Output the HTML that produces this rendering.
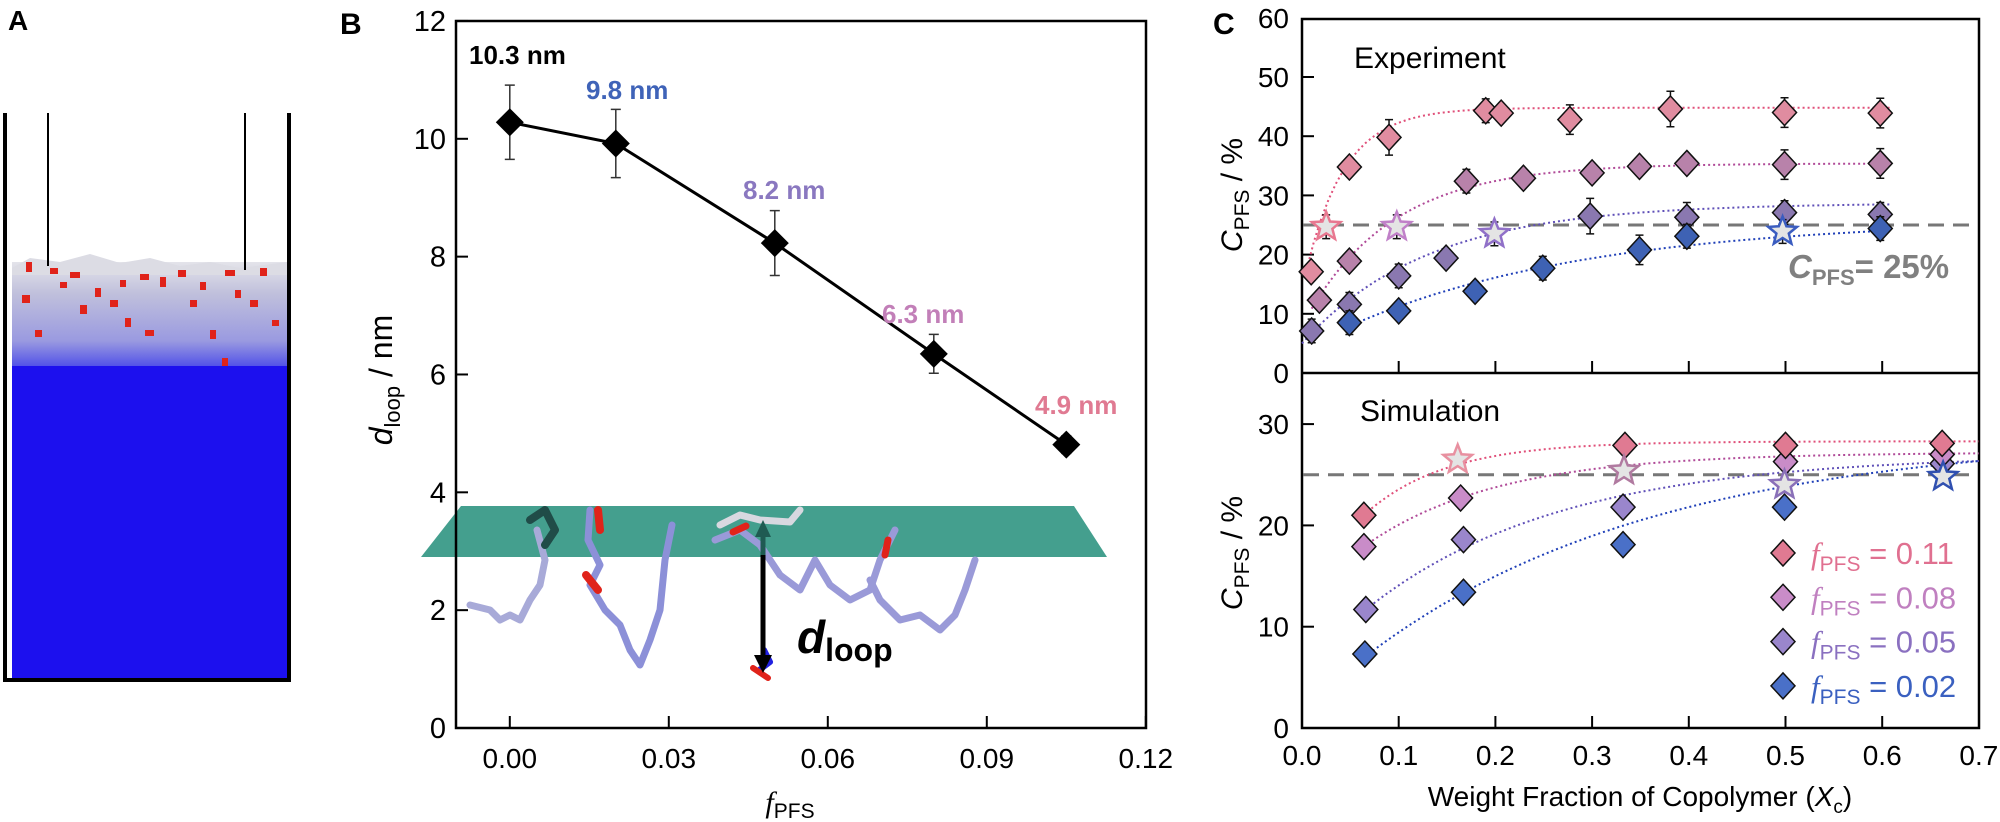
<!DOCTYPE html>
<html><head><meta charset="utf-8">
<style>
html,body{margin:0;padding:0;background:#fff;}
svg{display:block;font-family:"Liberation Sans",Arial,sans-serif;}
</style></head>
<body>
<svg id="fig" width="2000" height="822" viewBox="0 0 2000 822" xmlns="http://www.w3.org/2000/svg">
  <defs>
    <linearGradient id="layerGrad" x1="0" y1="0" x2="0" y2="1">
      <stop offset="0" stop-color="#e4e4ea"/>
      <stop offset="0.3" stop-color="#c0c0dc"/>
      <stop offset="0.75" stop-color="#9a9ae0"/>
      <stop offset="1" stop-color="#5050e8"/>
    </linearGradient>
  </defs>

  <!-- Panel A -->
  <g>
    <text x="8" y="30" font-size="28" font-weight="bold">A</text>
    <rect x="12" y="262" width="275" height="105" fill="url(#layerGrad)"/>
    <path d="M12,268 L30,258 L60,262 L90,254 L120,263 L150,258 L180,266 L210,262 L240,268 L287,262 L287,275 L12,275Z" fill="#dcdce4"/>
    <rect x="12" y="366" width="275" height="312" fill="#1c10ee"/>
    <g fill="#e0231a">
      <rect x="26" y="262" width="6" height="10"/><rect x="50" y="268" width="8" height="6"/>
      <rect x="70" y="272" width="10" height="6"/><rect x="95" y="288" width="6" height="9"/>
      <rect x="140" y="274" width="9" height="6"/><rect x="160" y="277" width="6" height="10"/>
      <rect x="178" y="270" width="8" height="7"/><rect x="200" y="282" width="6" height="8"/>
      <rect x="225" y="270" width="10" height="6"/><rect x="260" y="268" width="7" height="8"/>
      <rect x="22" y="295" width="8" height="8"/><rect x="80" y="305" width="7" height="9"/>
      <rect x="110" y="300" width="8" height="7"/><rect x="125" y="318" width="6" height="9"/>
      <rect x="145" y="330" width="9" height="6"/><rect x="210" y="330" width="6" height="9"/>
      <rect x="35" y="330" width="7" height="7"/><rect x="222" y="358" width="6" height="8"/>
      <rect x="250" y="300" width="8" height="7"/><rect x="272" y="320" width="7" height="6"/>
      <rect x="60" y="282" width="7" height="6"/><rect x="120" y="280" width="6" height="7"/>
      <rect x="190" y="300" width="7" height="7"/><rect x="235" y="290" width="6" height="8"/>
    </g>
    <g stroke="#000">
      <line x1="5" y1="113" x2="5" y2="681" stroke-width="4"/>
      <line x1="289" y1="113" x2="289" y2="681" stroke-width="4"/>
      <line x1="3" y1="680" x2="291" y2="680" stroke-width="4"/>
      <line x1="48" y1="113" x2="48" y2="266" stroke-width="2"/>
      <line x1="245" y1="113" x2="245" y2="270" stroke-width="2"/>
    </g>
  </g>

  <!-- Panel B -->
  <g id="panelB">
    <text x="340" y="34" font-size="30" font-weight="bold">B</text>
    <polygon points="421,557 461,506 1074,506 1107,557" fill="#3a9a88" opacity="0.95"/>
    <g fill="none" stroke-linecap="round" stroke-linejoin="round">
      <polyline points="537,530 545,560 540,585 530,600 520,620 510,615 500,620 490,610 470,605" stroke="#a8aad8" stroke-width="7"/>
      <polyline points="590,510 588,540 600,565 590,585 605,610 620,625 630,650 640,665 650,640 660,610 665,560 672,525" stroke="#8c90d8" stroke-width="7"/>
      <polyline points="715,540 740,530 760,545 780,575 800,590 815,560 830,585 850,600 870,590 880,560 895,530" stroke="#9a9ad8" stroke-width="7"/>
      <polyline points="870,580 880,600 900,620 920,615 940,630 955,615 965,590 975,560" stroke="#9a9ad8" stroke-width="7"/>
      <polyline points="530,520 545,510 555,530 545,545" stroke="#204c48" stroke-width="8"/>
      <polyline points="720,525 740,515 760,520 790,522 800,510" stroke="#d8d8e0" stroke-width="7"/>
      <polyline points="598,510 600,530" stroke="#e0231a" stroke-width="8"/>
      <polyline points="586,575 598,590" stroke="#e0231a" stroke-width="8"/>
      <polyline points="733,532 746,526" stroke="#e0231a" stroke-width="7"/>
      <polyline points="888,540 885,555" stroke="#e0231a" stroke-width="7"/>
      <polyline points="758,671 770,662 764,650" stroke="#2020e0" stroke-width="6"/>
      <polyline points="753,668 768,678" stroke="#e0231a" stroke-width="6"/>
    </g>
    <g>
      <line x1="763" y1="535" x2="763" y2="658" stroke="#000" stroke-width="5"/>
      <line x1="763" y1="535" x2="763" y2="555" stroke="#1f5b52" stroke-width="5"/>
      <polygon points="755,537 771,537 763,520" fill="#1f5b52"/>
      <polygon points="754,655 772,655 763,673" fill="#000"/>
    </g>
    <text x="797" y="653" font-size="46" font-weight="bold" font-style="italic">d<tspan font-size="32" font-style="normal" dy="8">loop</tspan></text>
  </g>

  <!-- Panel C -->
  <g id="panelC">
    <text x="1213" y="34" font-size="30" font-weight="bold">C</text>
    <text x="1354" y="68" font-size="30">Experiment</text>
    <text x="1360" y="421" font-size="30">Simulation</text>
    <text x="1788" y="278" font-size="33" font-weight="bold" fill="#808080"><tspan font-style="italic">C</tspan><tspan font-size="22" dy="7">PFS</tspan><tspan dy="-7">= 25%</tspan></text>
  </g>
</svg>

<script>
// ---------- Panel B data ----------
const bX = [0, 0.02, 0.05, 0.08, 0.105];
const bY = [10.28, 9.92, 8.23, 6.35, 4.81];
const bErr = [0.63, 0.58, 0.55, 0.33, 0.15];
const bTickX = ["0.00", "0.03", "0.06", "0.09", "0.12"];
const bTickXVals = [0, 0.03, 0.06, 0.09, 0.12];
const bTickY = ["0", "2", "4", "6", "8", "10", "12"];
const bTickYVals = [0, 2, 4, 6, 8, 10, 12];
const bLabels = ["10.3 nm", "9.8 nm", "8.2 nm", "6.3 nm", "4.9 nm"];
const bLabelColors = ["#000000", "#3f63b8", "#8a78c0", "#c27fb8", "#e07a92"];

// ---------- Panel C experiment data ----------
const expX_011 = [0.0095, 0.049, 0.090, 0.190, 0.206, 0.277, 0.381, 0.499, 0.598];
const expY_011 = [17.1, 34.8, 39.8, 44.3, 43.9, 42.8, 44.6, 44.0, 43.9];
const expE_011 = [1.5, 1.5, 3.0, 2.0, 1.0, 2.5, 3.0, 2.5, 2.5];
const expX_008 = [0.018, 0.049, 0.170, 0.229, 0.300, 0.349, 0.398, 0.499, 0.598];
const expY_008 = [12.3, 18.9, 32.4, 32.9, 33.8, 34.9, 35.4, 35.2, 35.4];
const expE_008 = [1.5, 1.5, 2.0, 1.0, 1.0, 1.5, 1.5, 2.5, 2.5];
const expX_005 = [0.010, 0.049, 0.100, 0.149, 0.298, 0.398, 0.499, 0.598];
const expY_005 = [7.1, 11.6, 16.4, 19.4, 26.5, 26.3, 27.1, 26.8];
const expE_005 = [2.0, 2.0, 2.0, 1.0, 3.0, 2.5, 2.0, 2.0];
const expX_002 = [0.049, 0.100, 0.179, 0.249, 0.349, 0.398, 0.598];
const expY_002 = [8.5, 10.5, 13.8, 17.7, 20.8, 23.1, 24.4];
const expE_002 = [2.0, 1.5, 1.5, 2.0, 2.5, 2.0, 2.0];
const expStarX = [0.025, 0.098, 0.199, 0.497];
const expStarY = [24.7, 24.7, 23.5, 23.9];
// fit curves: y = ymax - (ymax - y0) * exp(-x / t)
const expFitYmax = [44.8, 35.4, 28.7, 26.0];
const expFitY0 = [14, 8, 5, 4];
const expFitT = [0.04, 0.09, 0.13, 0.25];
const expFitStart = [0.005, 0.01, 0.0, 0.049];
const expFitEnd = [0.61, 0.61, 0.61, 0.61];

// ---------- Panel C simulation data ----------
const simX_011 = [0.064, 0.334, 0.500, 0.662];
const simY_011 = [21.0, 27.9, 27.9, 28.1];
const simX_008 = [0.064, 0.164, 0.500, 0.662];
const simY_008 = [17.9, 22.7, 26.3, 27.0];
const simX_005 = [0.066, 0.167, 0.332, 0.662];
const simY_005 = [11.7, 18.6, 21.8, 26.1];
const simX_002 = [0.065, 0.167, 0.332, 0.499];
const simY_002 = [7.3, 13.4, 18.1, 21.8];
const simStarX = [0.161, 0.333, 0.499, 0.663];
const simStarY = [26.5, 25.4, 24.0, 24.8];
// fit curves: y = ymax - A * exp(-x / t)
const simFitYmax = [28.3, 27.2, 27.0, 29.0];
const simFitA = [15.6, 14.8, 21.3, 27.3];
const simFitT = [0.084, 0.137, 0.2, 0.3];
const simFitStart = [0.064, 0.064, 0.066, 0.065];

const cTickX = ["0.0", "0.1", "0.2", "0.3", "0.4", "0.5", "0.6", "0.7"];
const cTickXVals = [0, 0.1, 0.2, 0.3, 0.4, 0.5, 0.6, 0.7];
const cTopTicks = ["0", "10", "20", "30", "40", "50", "60"];
const cTopTickVals = [0, 10, 20, 30, 40, 50, 60];
const cBotTicks = ["0", "10", "20", "30"];
const cBotTickVals = [0, 10, 20, 30];
const thresholdValue = 25;
const legendLabels = ["0.11", "0.08", "0.05", "0.02"];

const NS = "http://www.w3.org/2000/svg";
function mk(tag, attrs, parent) {
  const e = document.createElementNS(NS, tag);
  for (const k in attrs) e.setAttribute(k, attrs[k]);
  parent.appendChild(e);
  return e;
}

// ===== Panel B axes =====
const gB = document.getElementById("panelB");
const bx = v => 509.8 + v * 5300;
const by = v => 728 - v * 58.92;
const bFrame = mk("rect", {x: 456, y: 21, width: 690, height: 707, fill: "none", stroke: "#000", "stroke-width": 2.5}, gB);


bTickYVals.forEach((v, i) => {
  const t = mk("line", {x1: 456, x2: 468, y1: by(v), y2: by(v), stroke: "#000", "stroke-width": 2}, gB);
  
  
  const l = mk("text", {x: 446, y: by(v) + 10, "font-size": 29, "text-anchor": "end"}, gB);
  l.textContent = bTickY[i];
  
  
});
bTickXVals.forEach((v, i) => {
  const t = mk("line", {x1: bx(v), x2: bx(v), y1: 728, y2: 716, stroke: "#000", "stroke-width": 2}, gB);
  
  
  const l = mk("text", {x: bx(v), y: 768, "font-size": 28, "text-anchor": "middle"}, gB);
  l.textContent = bTickX[i];
  
  
});
const bXTitle = mk("text", {x: 790, y: 812, "font-size": 30, "text-anchor": "middle"}, gB);
bXTitle.innerHTML = '<tspan font-style="italic" font-family="Liberation Serif, serif">f</tspan><tspan font-size="21" dy="6">PFS</tspan>';


const bYTitle = mk("text", {x: 0, y: 0, "font-size": 32, "text-anchor": "middle", transform: "translate(392,380) rotate(-90)"}, gB);
bYTitle.innerHTML = '<tspan font-style="italic">d</tspan><tspan font-size="22" dy="8">loop</tspan><tspan dy="-8"> / nm</tspan>';



const bLine = mk("polyline", {points: bX.map((x, i) => bx(x) + "," + by(bY[i])).join(" "), fill: "none", stroke: "#000", "stroke-width": 3}, gB);


bX.forEach((x, i) => {
  const cx = bx(x), cy = by(bY[i]);
  const e = mk("path", {d: `M${cx},${by(bY[i] + bErr[i])}V${by(bY[i] - bErr[i])}M${cx - 5},${by(bY[i] + bErr[i])}h10M${cx - 5},${by(bY[i] - bErr[i])}h10`, stroke: "#333", "stroke-width": 1.5, fill: "none"}, gB);
  
  
  const d = mk("polygon", {points: `${cx},${cy - 14} ${cx + 14},${cy} ${cx},${cy + 14} ${cx - 14},${cy}`, fill: "#000"}, gB);
  
  
});
const bLabelPos = [[469, 64], [586, 99], [743, 199], [882, 323], [1035, 414]];
bLabels.forEach((s, i) => {
  const t = mk("text", {x: bLabelPos[i][0], y: bLabelPos[i][1], "font-size": 26, "font-weight": "bold", fill: bLabelColors[i]}, gB);
  t.textContent = s;
  
  
});

// ===== Panel C =====
const gC = document.getElementById("panelC");
const cx = v => 1302 + v * 967;
const cyT = v => 373 - v * 5.92;
const cyB = v => 728 - v * 10.13;
const cFrame = mk("rect", {x: 1302, y: 19, width: 677, height: 709, fill: "none", stroke: "#000", "stroke-width": 2.5}, gC);


const cDiv = mk("line", {x1: 1302, x2: 1979, y1: 373, y2: 373, stroke: "#000", "stroke-width": 2.5}, gC);


cTopTickVals.forEach((v, i) => {
  if (v > 0 && v < 60) {
    const t = mk("line", {x1: 1302, x2: 1314, y1: cyT(v), y2: cyT(v), stroke: "#000", "stroke-width": 2}, gC);
    
    
  }
  const l = mk("text", {x: 1289, y: cyT(v) + 10, "font-size": 28, "text-anchor": "end"}, gC);
  l.textContent = cTopTicks[i];
  
  
});
cBotTickVals.forEach((v, i) => {
  if (v > 0) {
    const t = mk("line", {x1: 1302, x2: 1314, y1: cyB(v), y2: cyB(v), stroke: "#000", "stroke-width": 2}, gC);
    
    
  }
  const l = mk("text", {x: 1289, y: cyB(v) + 10, "font-size": 28, "text-anchor": "end"}, gC);
  l.textContent = cBotTicks[i];
  
  
});
cTickXVals.forEach((v, i) => {
  if (v > 0 && v < 0.7) {
    [373, 728].forEach(base => {
      const t = mk("line", {x1: cx(v), x2: cx(v), y1: base, y2: base - 12, stroke: "#000", "stroke-width": 2}, gC);
      
      
    });
  }
  const l = mk("text", {x: cx(v), y: 765, "font-size": 28, "text-anchor": "middle"}, gC);
  l.textContent = cTickX[i];
  
  
});
const cXTitle = mk("text", {x: 1640, y: 806, "font-size": 28, "text-anchor": "middle"}, gC);
cXTitle.innerHTML = 'Weight Fraction of Copolymer (<tspan font-style="italic">X</tspan><tspan font-size="19" dy="7">c</tspan><tspan dy="-7">)</tspan>';


[[195, 'top-y-axis-title'], [553, 'bottom-y-axis-title']].forEach(p => {
  const t = mk("text", {x: 0, y: 0, "font-size": 30, "text-anchor": "middle", transform: `translate(1242,${p[0]}) rotate(-90)`}, gC);
  t.innerHTML = '<tspan font-style="italic">C</tspan><tspan font-size="21" dy="7">PFS</tspan><tspan dy="-7"> / %</tspan>';
  
  
});

// threshold lines
[[cyT(thresholdValue), 'top-threshold-line'], [cyB(thresholdValue), 'bottom-threshold-line']].forEach(p => {
  const l = mk("line", {x1: 1303, x2: 1978, y1: p[0], y2: p[0], stroke: "#777", "stroke-width": 3, "stroke-dasharray": "16,9"}, gC);
  
  
});

const curveColors = ["#e0507a", "#b04a98", "#6050b8", "#2040b8"];
const expFill = ["#e08ca0", "#b882aa", "#8a78b0", "#3e62b4"];
const simFill = ["#e07a92", "#c98cc8", "#9a86cc", "#4a70c8"];
const starStroke = ["#e87890", "#c080c8", "#9070c8", "#3a5cc0"];
const simStarStroke = ["#e890a0", "#b07aa0", "#8a70b8", "#3050b0"];
const legendText = ["#e07090", "#c080c0", "#8a70c0", "#3a60c0"];

// fit curves
for (let s = 0; s < 4; s++) {
  let pts = [];
  for (let k = 0; k <= 80; k++) {
    const x = expFitStart[s] + (expFitEnd[s] - expFitStart[s]) * k / 80;
    const y = expFitYmax[s] - (expFitYmax[s] - expFitY0[s]) * Math.exp(-x / expFitT[s]);
    pts.push(cx(x).toFixed(1) + "," + cyT(y).toFixed(1));
  }
  const c = mk("polyline", {points: pts.join(" "), fill: "none", stroke: curveColors[s], "stroke-width": 2, "stroke-dasharray": "2,3"}, gC);
  
  
  let pts2 = [];
  for (let k = 0; k <= 80; k++) {
    const x = simFitStart[s] + (0.7 - simFitStart[s]) * k / 80;
    const y = simFitYmax[s] - simFitA[s] * Math.exp(-x / simFitT[s]);
    pts2.push(cx(x).toFixed(1) + "," + cyB(y).toFixed(1));
  }
  const c2 = mk("polyline", {points: pts2.join(" "), fill: "none", stroke: curveColors[s], "stroke-width": 2, "stroke-dasharray": "2,3"}, gC);
  
  
}

function diamond(px, py, fill, name) {
  const d = mk("polygon", {points: `${px},${py - 13} ${px + 12},${py} ${px},${py + 13} ${px - 12},${py}`, fill: fill, stroke: "#111", "stroke-width": 1.5}, gC);
  
  
}
function star(px, py, stroke, name) {
  let p = [];
  for (let k = 0; k < 10; k++) {
    const r = k % 2 === 0 ? 15 : 6.5;
    const a = -Math.PI / 2 + k * Math.PI / 5;
    p.push((px + r * Math.cos(a)).toFixed(1) + "," + (py + r * Math.sin(a)).toFixed(1));
  }
  const st = mk("polygon", {points: p.join(" "), fill: "#e4e4e4", stroke: stroke, "stroke-width": 2.5}, gC);
  
  
}
function errbar(px, y, e) {
  const a = cyT(y + e), b = cyT(y - e);
  const p = mk("path", {d: `M${px},${a}V${b}M${px - 4},${a}h8M${px - 4},${b}h8`, stroke: "#111", "stroke-width": 1.5, fill: "none"}, gC);
  
  
}

const expXs = [expX_011, expX_008, expX_005, expX_002];
const expYs = [expY_011, expY_008, expY_005, expY_002];
const expEs = [expE_011, expE_008, expE_005, expE_002];
for (let s = 0; s < 4; s++) {
  expXs[s].forEach((x, i) => {
    errbar(cx(x), expYs[s][i], expEs[s][i]);
    diamond(cx(x), cyT(expYs[s][i]), expFill[s], 'experiment-point');
  });
}
expStarX.forEach((x, i) => {
  errbar(cx(x), expStarY[i], 2);
  star(cx(x), cyT(expStarY[i]), starStroke[i], 'experiment-threshold-star');
});

const simXs = [simX_011, simX_008, simX_005, simX_002];
const simYs = [simY_011, simY_008, simY_005, simY_002];
for (let s = 3; s >= 0; s--) {
  simXs[s].forEach((x, i) => diamond(cx(x), cyB(simYs[s][i]), simFill[s], 'simulation-point'));
}
simStarX.forEach((x, i) => star(cx(x), cyB(simStarY[i]), simStarStroke[i], 'simulation-threshold-star'));

// legend
legendLabels.forEach((lab, i) => {
  const y = 553 + i * 44.3;
  diamond(1783, y, simFill[i], 'legend-marker');
  const t = mk("text", {x: 1811, y: y + 11, "font-size": 31, fill: legendText[i]}, gC);
  t.innerHTML = '<tspan font-style="italic" font-family="Liberation Serif, serif">f</tspan><tspan font-size="21" dy="7">PFS</tspan><tspan dy="-7"> = ' + lab + '</tspan>';
  
  
});
</script>
</body></html>
